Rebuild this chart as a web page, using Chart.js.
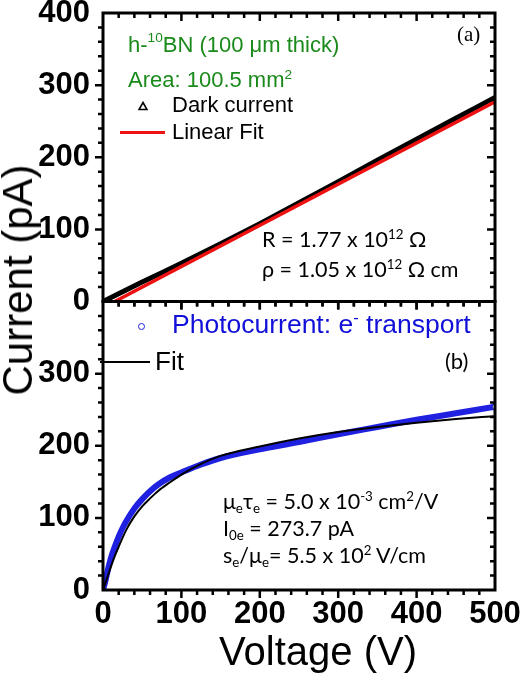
<!DOCTYPE html>
<html>
<head>
<meta charset="utf-8">
<script src="https://cdn.jsdelivr.net/npm/chart.js@4.4.1/dist/chart.umd.min.js"></script>
<style>
  html, body { margin:0; padding:0; background:#fff; }
  #wrap { position:relative; width:520px; height:677px; overflow:hidden; }
  canvas { position:absolute; left:0; top:0; }
  .t { position:absolute; white-space:nowrap; line-height:1; }
  .ar { font-family:"Liberation Sans", Arial, sans-serif; }
  .la { font-family:Lato, "Open Sans", sans-serif; }
  .t sup, .t sub { font-size:0.62em; line-height:0; vertical-align:baseline; position:relative; }
  .t sup { top:-0.62em; }
  .t sub { top:0.3em; }
</style>
</head>
<body>
<div id="wrap">
<canvas id="c" width="520" height="677"></canvas>

<div class="t ar" style="left:128px; top:34px; font-size:22px; color:#1a8a1a;">h-<sup style="top:-0.75em">10</sup>BN (100 μm thick)</div>
<div class="t ar" style="left:128px; top:69px; font-size:22px; color:#1a8a1a;">Area: 100.5 mm<sup>2</sup></div>
<svg style="position:absolute; left:138px; top:101px;" width="10" height="10"><polygon points="5,1.5 9,8.5 1,8.5" fill="none" stroke="#000" stroke-width="1.6"/></svg>
<div class="t ar" style="left:172px; top:94px; font-size:22px; color:#000;">Dark current</div>
<div style="position:absolute; left:120px; top:131px; width:45px; height:3px; background:#ee1111;"></div>
<div class="t ar" style="left:172px; top:121px; font-size:22px; color:#000;">Linear Fit</div>
<div class="t" style="left:457px; top:24px; font-size:21px; font-family:'Liberation Serif','DejaVu Serif',serif;">(a)</div>
<div class="t la" style="left:262px; top:229px; font-size:21.5px;">R = 1.77 x 10<sup>12</sup> Ω</div>
<div class="t la" style="left:262px; top:259px; font-size:21.5px;">ρ = 1.05 x 10<sup>12</sup> Ω cm</div>

<div style="position:absolute; left:138px; top:323px; width:5px; height:5px; border:1.5px solid #2020e0; border-radius:50%;"></div>
<div class="t ar" style="left:172px; top:311px; font-size:26.5px; color:#1010d8;">Photocurrent: e<sup>-</sup> transport</div>
<div style="position:absolute; left:100px; top:361px; width:50px; height:2px; background:#000;"></div>
<div class="t ar" style="left:155px; top:348px; font-size:26px;">Fit</div>
<div class="t la" style="left:445px; top:350px; font-size:22px;">(b)</div>
<div class="t la" style="left:223px; top:491px; font-size:21.5px;">μ<sub>e</sub>τ<sub>e</sub> = 5.0 x 10<sup>-3</sup> cm<sup>2</sup>/V</div>
<div class="t la" style="left:223px; top:518px; font-size:21.5px;">I<sub>0e</sub> = 273.7 pA</div>
<div class="t la" style="left:223px; top:545px; font-size:21.5px;">s<sub>e</sub>/μ<sub>e</sub>= 5.5 x 10<sup>2</sup> V/cm</div>

<div class="t ar" style="left:318px; top:631px; font-size:40px; transform:translateX(-50%);">Voltage (V)</div>
<div class="t ar" style="left:18px; top:280px; font-size:42px; transform:translate(-50%,-50%) rotate(-90deg);">Current (pA)</div>
</div>

<script>
// ---- data ----
const xTicks = [0, 100, 200, 300, 400, 500];
const yTicksTop = [0, 100, 200, 300, 400];
const yTicksBot = [0, 100, 200, 300];

const voltsDark = [0, 50, 100, 150, 200, 250, 300, 350, 400, 450, 500];
const darkCurrent = [0, 27, 53, 80, 108, 137, 166, 196, 225, 254, 283];

const voltsLinFit = [15, 500];
const linearFit = [0, 277];

const voltsPhoto = [0, 3, 6, 10, 15, 20, 25, 30, 40, 50, 60, 70, 85, 100, 125, 150, 200, 250, 300, 350, 400, 450, 500];
const photoCurrent = [0, 12, 27, 44, 60, 74, 86, 96, 113, 126, 137, 146, 156, 163, 174, 183, 195, 205, 216, 226, 236, 245, 254];

const voltsFit = [0, 5, 10, 15, 20, 30, 40, 50, 60, 70, 85, 100, 125, 150, 200, 250, 300, 350, 400, 450, 500];
const hechtFit = [0, 16, 32, 47, 60, 84, 102, 116, 127, 137, 149, 160, 175, 186, 199, 210, 219, 226, 232, 237, 241];

const pts = (xs, ys) => xs.map((x, i) => ({x, y: ys[i]}));

// target plot frame (pixels) used to fix the layout
const frame = {left: 103, top: 13, right: 495, bottom: 590};

const frameTicks = {
  id: 'frameTicks',
  afterDatasetsDraw(chart) {
    const ctx = chart.ctx;
    const xs = chart.scales.x;
    ctx.save();
    ctx.strokeStyle = '#000';
    for (const id of ['yTop', 'yBot']) {
      const ys = chart.scales[id];
      const L = xs.left, R = xs.right, T = ys.top, B = ys.bottom;
      ctx.lineWidth = 2.5;
      ctx.beginPath();
      for (let v = xs.min + 20; v < xs.max; v += 20) {
        const px = xs.getPixelForValue(v);
        const len = v % 100 === 0 ? 8 : 5;
        for (const yy of [T, B]) { ctx.moveTo(px, yy); ctx.lineTo(px, yy + len); }
      }
      for (let v = ys.min + 20; v < ys.max; v += 20) {
        const py = ys.getPixelForValue(v);
        const len = v % 100 === 0 ? 8 : 5;
        for (const xx of [L, R]) { ctx.moveTo(xx, py); ctx.lineTo(xx - len, py); }
      }
      ctx.stroke();
      ctx.lineWidth = 3;
      ctx.strokeRect(L, T, R - L, B - T);
    }
    ctx.restore();
  }
};

const tickFont = {family: '"Liberation Sans", Arial, sans-serif', size: 31, weight: 'bold', lineHeight: 1.2};
const fitY = s => { s.width = frame.left; s.paddingTop = 0; s.paddingBottom = 0; s.paddingLeft = 0; s.paddingRight = 0; };
const fitX = s => { s.height = 677 - frame.bottom; s.paddingTop = 0; s.paddingBottom = 0; s.paddingLeft = 0; s.paddingRight = 0; };

const chart = new Chart(document.getElementById('c'), {
  type: 'line',
  data: {
    datasets: [
      {label: 'Dark current', data: pts(voltsDark, darkCurrent), yAxisID: 'yTop',
       borderColor: '#000', borderWidth: 5, pointRadius: 0, order: 2},
      {label: 'Linear Fit', data: pts(voltsLinFit, linearFit), yAxisID: 'yTop',
       borderColor: '#ee1111', borderWidth: 3.5, pointRadius: 0, order: 1},
      {label: 'Photocurrent: e- transport', data: pts(voltsPhoto, photoCurrent), yAxisID: 'yBot',
       borderColor: '#2020e0', borderWidth: 6,
       pointRadius: ctx => ctx.dataIndex === voltsPhoto.length - 1 ? 3 : 0,
       pointBorderColor: '#2020e0', pointBackgroundColor: '#fff', pointBorderWidth: 1.5, order: 2},
      {label: 'Fit', data: pts(voltsFit, hechtFit), yAxisID: 'yBot',
       borderColor: '#000', borderWidth: 2, pointRadius: 0, order: 1}
    ]
  },
  options: {
    responsive: false,
    animation: false,
    layout: {autoPadding: false, padding: {left: 0, top: frame.top, right: 520 - frame.right, bottom: 0}},
    plugins: {legend: {display: false}, tooltip: {enabled: false}},
    elements: {line: {cubicInterpolationMode: 'monotone', borderCapStyle: 'round'}},
    scales: {
      x: {
        type: 'linear', min: 0, max: 500, position: 'bottom',
        grid: {display: false, drawTicks: false}, border: {display: false},
        afterBuildTicks: s => { s.ticks = xTicks.map(v => ({value: v})); },
        ticks: {font: tickFont, color: '#000', padding: 6, maxRotation: 0, autoSkip: false},
        afterFit: fitX
      },
      yBot: {
        type: 'linear', min: 0, max: 400, position: 'left', stack: 'panels', stackWeight: 1,
        grid: {display: false, drawTicks: false}, border: {display: false},
        afterBuildTicks: s => { s.ticks = yTicksBot.map(v => ({value: v})); },
        ticks: {font: tickFont, color: '#000', padding: 13, autoSkip: false},
        afterFit: fitY
      },
      yTop: {
        type: 'linear', min: 0, max: 400, position: 'left', stack: 'panels', stackWeight: 1,
        grid: {display: false, drawTicks: false}, border: {display: false},
        afterBuildTicks: s => { s.ticks = yTicksTop.map(v => ({value: v})); },
        ticks: {font: tickFont, color: '#000', padding: 13, autoSkip: false},
        afterFit: fitY
      }
    }
  },
  plugins: [frameTicks]
});

// correct any residual layout offset so the frame lands where the reference has it
(function fixLayout() {
  const ca = chart.chartArea;
  const pad = chart.options.layout.padding;
  const dTop = frame.top - ca.top;
  const dRight = ca.right - frame.right;
  const dBottom = ca.bottom - frame.bottom;
  if (Math.abs(dTop) > 0.5 || Math.abs(dRight) > 0.5 || Math.abs(dBottom) > 0.5) {
    pad.top += dTop;
    pad.right += dRight;
    pad.bottom += dBottom;
    chart.update();
  }
})();
</script>
</body>
</html>
